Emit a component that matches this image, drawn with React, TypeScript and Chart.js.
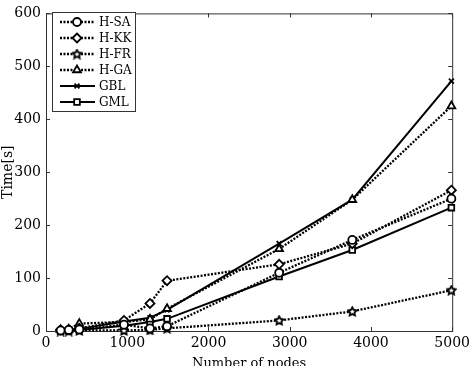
import React, { useEffect, useRef } from 'react';
import { Chart, registerables } from 'chart.js';
import { drawPoint } from 'chart.js/helpers';

Chart.register(...registerables);

// ---- data ----
const nodes = [180, 280, 410, 960, 1280, 1490, 2870, 3770, 4990];
const seriesNames = ['H-SA', 'H-KK', 'H-FR', 'H-GA', 'GBL', 'GML'];
const hSA = [1, 2, 3, 12, 5, 9, 110, 172, 250];
const hKK = [2, 3, 5, 20, 52, 95, 126, 165, 266];
const hFR = [0, 0, 1, 1, 2, 5, 20, 37, 77];
const hGA = [2, 3, 14, 17, 22, 42, 155, 248, 425];
const gbl = [1, 2, 4, 18, 25, 40, 165, 248, 472];
const gml = [0, 1, 2, 10, 17, 23, 103, 153, 233];
const xTickStep = 1000;
const yTickStep = 100;

const FONT = "'DejaVu Serif', 'Liberation Serif', serif";

function makeStar(): HTMLCanvasElement {
  const c = document.createElement('canvas');
  c.width = 11;
  c.height = 11;
  const g = c.getContext('2d')!;
  g.beginPath();
  for (let i = 0; i < 10; i++) {
    const r = i % 2 === 0 ? 4.5 : 2.3;
    const a = -Math.PI / 2 + (i * Math.PI) / 5;
    const x = 5.5 + r * Math.cos(a);
    const y = 5.8 + r * Math.sin(a);
    if (i === 0) g.moveTo(x, y);
    else g.lineTo(x, y);
  }
  g.closePath();
  g.fillStyle = '#fff';
  g.fill();
  g.lineWidth = 1.8;
  g.strokeStyle = '#000';
  g.stroke();
  return c;
}

const framePlugin = {
  id: 'frameTicks',
  beforeDatasetsDraw(chart: any) {
    const { ctx, chartArea: a, scales } = chart;
    ctx.save();
    ctx.strokeStyle = '#333';
    ctx.lineWidth = 1;
    ctx.strokeRect(a.left + 0.5, a.top + 0.5, a.right - a.left, a.bottom - a.top);
    const tl = 4;
    ctx.beginPath();
    scales.x.ticks.forEach((t: any) => {
      const x = Math.round(scales.x.getPixelForValue(t.value)) + 0.5;
      ctx.moveTo(x, a.bottom);
      ctx.lineTo(x, a.bottom - tl);
      ctx.moveTo(x, a.top);
      ctx.lineTo(x, a.top + tl);
    });
    scales.y.ticks.forEach((t: any) => {
      const y = Math.round(scales.y.getPixelForValue(t.value)) + 0.5;
      ctx.moveTo(a.left, y);
      ctx.lineTo(a.left + tl, y);
      ctx.moveTo(a.right, y);
      ctx.lineTo(a.right - tl, y);
    });
    ctx.stroke();
    ctx.restore();
  },
  afterDraw(chart: any) {
    const { ctx } = chart;
    const bx = 52, by = 12, bw = 83, bh = 99;
    ctx.save();
    ctx.fillStyle = '#fff';
    ctx.fillRect(bx, by, bw, bh);
    ctx.strokeStyle = '#333';
    ctx.lineWidth = 1;
    ctx.strokeRect(bx + 0.5, by + 0.5, bw, bh);
    chart.data.datasets.forEach((ds: any, i: number) => {
      const y = 22 + i * 16;
      ctx.save();
      ctx.strokeStyle = '#000';
      ctx.lineWidth = ds.borderWidth;
      ctx.setLineDash(ds.borderDash || []);
      ctx.beginPath();
      ctx.moveTo(60, y);
      ctx.lineTo(95, y);
      ctx.stroke();
      ctx.restore();
      ctx.save();
      ctx.fillStyle = '#fff';
      ctx.strokeStyle = '#000';
      ctx.lineWidth = ds.pointBorderWidth;
      drawPoint(ctx, { pointStyle: ds.pointStyle, rotation: 0, radius: ds.pointRadius, borderWidth: ds.pointBorderWidth } as any, 77, y);
      ctx.restore();
      ctx.fillStyle = '#000';
      ctx.font = `12px ${FONT}`;
      ctx.textBaseline = 'middle';
      ctx.textAlign = 'left';
      ctx.fillText(ds.label, 99, y + 1);
    });
    ctx.restore();
  },
};

export default function App() {
  const ref = useRef<HTMLCanvasElement>(null);
  useEffect(() => {
    const star = makeStar();
    const dotted = [2, 1.5];
    const mk = (label: string, vals: number[], style: any, dash: number[] | null, radius = 4) => ({
      label,
      data: nodes.map((n, i) => ({ x: n, y: vals[i] })),
      borderColor: '#000',
      backgroundColor: '#fff',
      borderWidth: dash ? 2.3 : 2,
      borderDash: dash || [],
      pointStyle: style,
      pointRadius: radius,
      pointBorderWidth: 1.8,
      pointBackgroundColor: '#fff',
      pointBorderColor: '#000',
      clip: false,
    });
    const chart = new Chart(ref.current!, {
      type: 'line',
      data: {
        datasets: [
          mk(seriesNames[0], hSA, 'circle', dotted, 4),
          mk(seriesNames[1], hKK, 'rectRot', dotted, 4.5),
          mk(seriesNames[2], hFR, star, dotted, 5),
          mk(seriesNames[3], hGA, 'triangle', dotted, 4.5),
          mk(seriesNames[4], gbl, 'crossRot', null, 3.5),
          mk(seriesNames[5], gml, 'rect', null, 4),
        ],
      },
      options: {
        animation: false,
        responsive: false,
        devicePixelRatio: 1,
        layout: { padding: { top: 5, right: 14, left: 0, bottom: 0 } },
        plugins: { legend: { display: false }, tooltip: { enabled: false } },
        scales: {
          x: {
            type: 'linear',
            min: 0,
            max: 5000,
            grid: { display: false, drawTicks: false },
            border: { display: false },
            ticks: {
              stepSize: xTickStep,
              padding: 4,
              color: '#000',
              font: { family: FONT, size: 14 },
              callback: (v: any) => String(v),
            },
            title: {
              display: true,
              text: 'Number of nodes',
              color: '#000',
              font: { family: FONT, size: 13 },
              padding: { top: 0, bottom: -5 },
            },
            afterFit: (s: any) => { s.height = 35; },
          },
          y: {
            type: 'linear',
            min: 0,
            max: 600,
            grid: { display: false, drawTicks: false },
            border: { display: false },
            ticks: {
              stepSize: yTickStep,
              padding: 5,
              color: '#000',
              font: { family: FONT, size: 14 },
              callback: (v: any) => String(v),
            },
            title: {
              display: true,
              text: 'Time[s]',
              color: '#000',
              font: { family: FONT, size: 14 },
              padding: { top: 0, bottom: 0 },
            },
            afterFit: (s: any) => { s.width = 46; },
          },
        },
      } as any,
      plugins: [framePlugin],
    });
    return () => chart.destroy();
  }, []);
  return (
    <div style={{ position: 'fixed', left: 0, top: 0, width: 474, height: 366, background: '#fff' }}>
      <canvas ref={ref} width={474} height={366} style={{ display: 'block' }} />
    </div>
  );
}
